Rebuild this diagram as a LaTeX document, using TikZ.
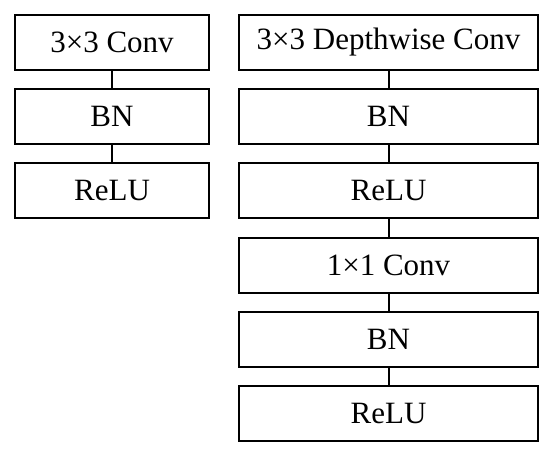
\documentclass[tikz,border=0pt]{standalone}
\usepackage{fontspec}
\setmainfont{Liberation Serif}
\usetikzlibrary{
  positioning,
}

\begin{document}
\begin{tikzpicture}[
  x=1pt, y=1pt,
  layer/.style={draw, line width=1pt, inner sep=0pt, outer sep=0pt,
    minimum height=27.5pt, font=\fontsize{15.5}{18}\selectfont},
  narrow/.style={layer, minimum width=97pt},
  wide/.style={layer, minimum width=149.5pt},
  link/.style={line width=1pt},
  node distance=9.6pt,
]
\useasboundingbox (0,0) rectangle (275,-224.5);
\node[narrow] (conv) at (56,-21.25) {3×3 Conv};
\node[narrow, below=of conv] (bn) {BN};
\node[narrow, below=of bn] (relu) {ReLU};
\node[wide] (dwconv) at (194.25,-21.25) {3×3 Depthwise Conv};
\node[wide, below=of dwconv] (dwbn) {BN};
\node[wide, below=of dwbn] (dwrelu) {ReLU};
\node[wide, below=of dwrelu] (pwconv) {1×1 Conv};
\node[wide, below=of pwconv] (pwbn) {BN};
\node[wide, below=of pwbn] (pwrelu) {ReLU};
\foreach \a/\b in {conv/bn, bn/relu, dwconv/dwbn, dwbn/dwrelu, dwrelu/pwconv, pwconv/pwbn, pwbn/pwrelu}
  \draw[link] (\a) -- (\b);
\end{tikzpicture}
\end{document}
